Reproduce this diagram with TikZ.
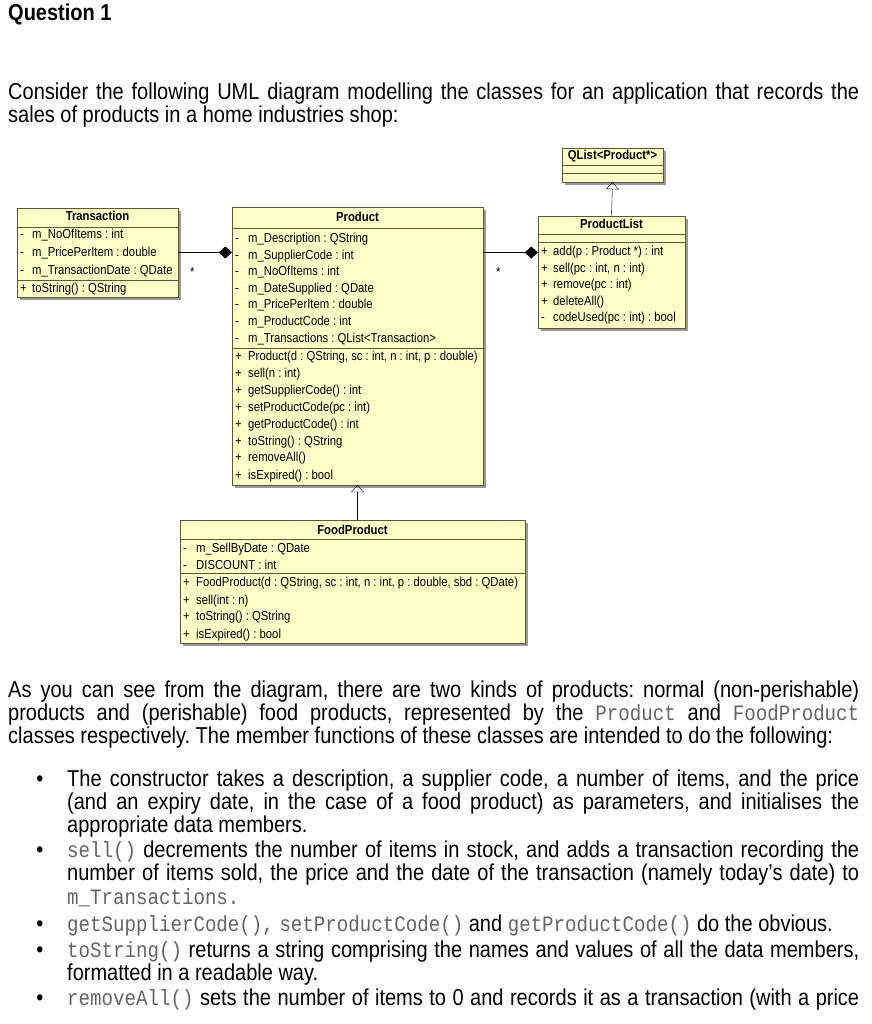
\documentclass[tikz,border=0pt]{standalone}
\usepackage{fontspec}
\setmainfont[FakeStretch=0.87]{Liberation Sans}
\setmonofont[FakeStretch=0.87]{Liberation Mono}
\usetikzlibrary{arrows.meta,shadows}
\definecolor{umlfill}{RGB}{255,255,200}
\definecolor{umledge}{RGB}{95,85,55}
\definecolor{codegray}{RGB}{100,100,100}
\newcommand{\code}[1]{{\fontsize{22}{23}\ttfamily\color{codegray}#1}}
\newcommand{\jline}[2][851pt]{\makebox[#1][s]{#2}}
\frenchspacing
\tikzset{
  umlbox/.style={draw=umledge, fill=umlfill, inner sep=0pt,
    drop shadow={shadow xshift=3pt, shadow yshift=-3pt, fill=black!40, opacity=1}},
  umlsep/.style={draw=umledge},
  member/.style={anchor=base west, inner sep=0pt, font=\fontsize{13}{13}\selectfont},
  umltitle/.style={anchor=base, inner sep=0pt, font=\fontsize{13}{13}\selectfont\bfseries},
  compose/.style={-{Diamond[length=13pt,width=12pt]}},
  inherit/.style={-{Triangle[open,length=7pt,width=13pt]}},
  bodyline/.style={anchor=base west, inner sep=0pt, font=\fontsize{23}{23}\selectfont},
}

\begin{document}
\begin{tikzpicture}[x=1pt, y=-1pt]
  \useasboundingbox (0,0) rectangle (871,1024);
  \fill[white] (0,0) rectangle (871,1024);

  % heading and intro
  \node[bodyline, font=\fontsize{23}{23}\selectfont\bfseries] (qhead) at (8,21) {Question 1};
  \node[bodyline] (introA) at (8,100) {\jline{Consider the following UML diagram modelling the classes for an application that records the}};
  \node[bodyline] (introB) at (8,123) {sales of products in a home industries shop:};

  % classes: Transaction
  \node[umlbox, minimum width=161pt, minimum height=89pt] (trans) at (97.5,252.5) {};
  \draw[umlsep] (17,227) -- (178,227) (17,280) -- (178,280);
  \node[umltitle] (transT) at (97.5,221) {Transaction};
  \foreach \y/\v/\t [count=\i] in {238.5/-/{m\_NoOfItems : int}, 256/-/{m\_PricePerItem : double},
      274/-/{m\_TransactionDate : QDate}, 292.5/+/{toString() : QString}}{
    \node[member] (transV\i) at (20,\y) {\v};
    \node[member] (transM\i) at (32,\y) {\t};}

  % Product
  \node[umlbox, minimum width=251pt, minimum height=278pt] (prod) at (357.5,346) {};
  \draw[umlsep] (232,228) -- (483,228) (232,348) -- (483,348);
  \node[umltitle] (prodT) at (357.5,222) {Product};
  \foreach \y/\v/\t [count=\i] in {242/-/{m\_Description : QString}, 259/-/{m\_SupplierCode : int},
      275/-/{m\_NoOfItems : int}, 292/-/{m\_DateSupplied : QDate}, 308.5/-/{m\_PricePerItem : double},
      325/-/{m\_ProductCode : int}, 342/-/{m\_Transactions : QList<Transaction>},
      360.5/+/{Product(d : QString, sc : int, n : int, p : double)}, 377.5/+/{sell(n : int)},
      394.5/+/{getSupplierCode() : int}, 411.5/+/{setProductCode(pc : int)},
      428.5/+/{getProductCode() : int}, 445.5/+/{toString() : QString},
      461.5/+/{removeAll()}, 479.5/+/{isExpired() : bool}}{
    \node[member] (prodV\i) at (235,\y) {\v};
    \node[member] (prodM\i) at (248,\y) {\t};}

  % QList<Product*> and ProductList
  \node[umlbox, minimum width=101pt, minimum height=34pt] (qlist) at (612.5,165) {};
  \draw[umlsep] (562,165) -- (663,165) (562,173.5) -- (663,173.5);
  \node[umltitle] (qlistT) at (612.5,160) {QList<Product*>};

  \node[umlbox, minimum width=147pt, minimum height=112pt] (plist) at (611.5,272) {};
  \draw[umlsep] (538,234) -- (685,234) (538,242) -- (685,242);
  \node[umltitle] (plistT) at (611.5,229) {ProductList};
  \foreach \y/\v/\t [count=\i] in {255.5/+/{add(p : Product *) : int}, 272/+/{sell(pc : int, n : int)},
      288.5/+/{remove(pc : int)}, 305.5/+/{deleteAll()}, 321.5/-/{codeUsed(pc : int) : bool}}{
    \node[member] (plistV\i) at (541,\y) {\v};
    \node[member] (plistM\i) at (553,\y) {\t};}

  % FoodProduct
  \node[umlbox, minimum width=345pt, minimum height=123pt] (food) at (352.5,581.5) {};
  \draw[umlsep] (180,539) -- (525,539) (180,573) -- (525,573);
  \node[umltitle] (foodT) at (352.5,534) {FoodProduct};
  \foreach \y/\v/\t [count=\i] in {552.5/-/{m\_SellByDate : QDate}, 569.5/-/{DISCOUNT : int},
      586.5/+/{FoodProduct(d : QString, sc : int, n : int, p : double, sbd : QDate)},
      604.5/+/{sell(int : n)}, 620.5/+/{toString() : QString}, 638.5/+/{isExpired() : bool}}{
    \node[member] (foodV\i) at (183,\y) {\v};
    \node[member] (foodM\i) at (196,\y) {\t};}

  % associations
  \draw[compose] (trans.east) -- (trans.east -| prod.west);
  \draw[compose] (prod.east |- trans.east) -- (plist.west |- trans.east);
  \node[member] (transMult) at (190,276) {*};
  \node[member] (plistMult) at (496,276) {*};
  \draw[inherit] (prod.south |- food.north) -- (prod.south);
  \draw[inherit] (plist.north) -- (qlist.south);

  % explanation
  \node[bodyline] (explA) at (8,697) {\jline{As you can see from the diagram, there are two kinds of products: normal (non-perishable)}};
  \node[bodyline] (explB) at (8,720) {\jline{products and (perishable) food products, represented by the \code{Product} and \code{FoodProduct}}};
  \node[bodyline] (explC) at (8,743) {classes respectively. The member functions of these classes are intended to do the following:};

  % bullet list
  \foreach \y [count=\i] in {786,857,931,957,1005}
    \node[bodyline, anchor=base] (bul\i) at (40,\y) {\textbullet};
  \node[bodyline] (ctorA) at (67,786) {\jline[792pt]{The constructor takes a description, a supplier code, a number of items, and the price}};
  \node[bodyline] (ctorB) at (67,809) {\jline[792pt]{(and an expiry date, in the case of a food product) as parameters, and initialises the}};
  \node[bodyline] (ctorC) at (67,832) {appropriate data members.};
  \node[bodyline] (sellA) at (67,857) {\jline[792pt]{\code{sell()} decrements the number of items in stock, and adds a transaction recording the}};
  \node[bodyline] (sellB) at (67,880) {\jline[792pt]{number of items sold, the price and the date of the transaction (namely today's date) to}};
  \node[bodyline] (sellC) at (67,904) {\code{m\_Transactions.}};
  \node[bodyline] (getA) at (67,931) {\code{getSupplierCode(),} \code{setProductCode()} and \code{getProductCode()} do the obvious.};
  \node[bodyline] (strA) at (67,957) {\jline[792pt]{\code{toString()} returns a string comprising the names and values of all the data members,}};
  \node[bodyline] (strB) at (67,980) {formatted in a readable way.};
  \node[bodyline] (remA) at (67,1005) {\jline[792pt]{\code{removeAll()} sets the number of items to 0 and records it as a transaction (with a price}};
\end{tikzpicture}
\end{document}
